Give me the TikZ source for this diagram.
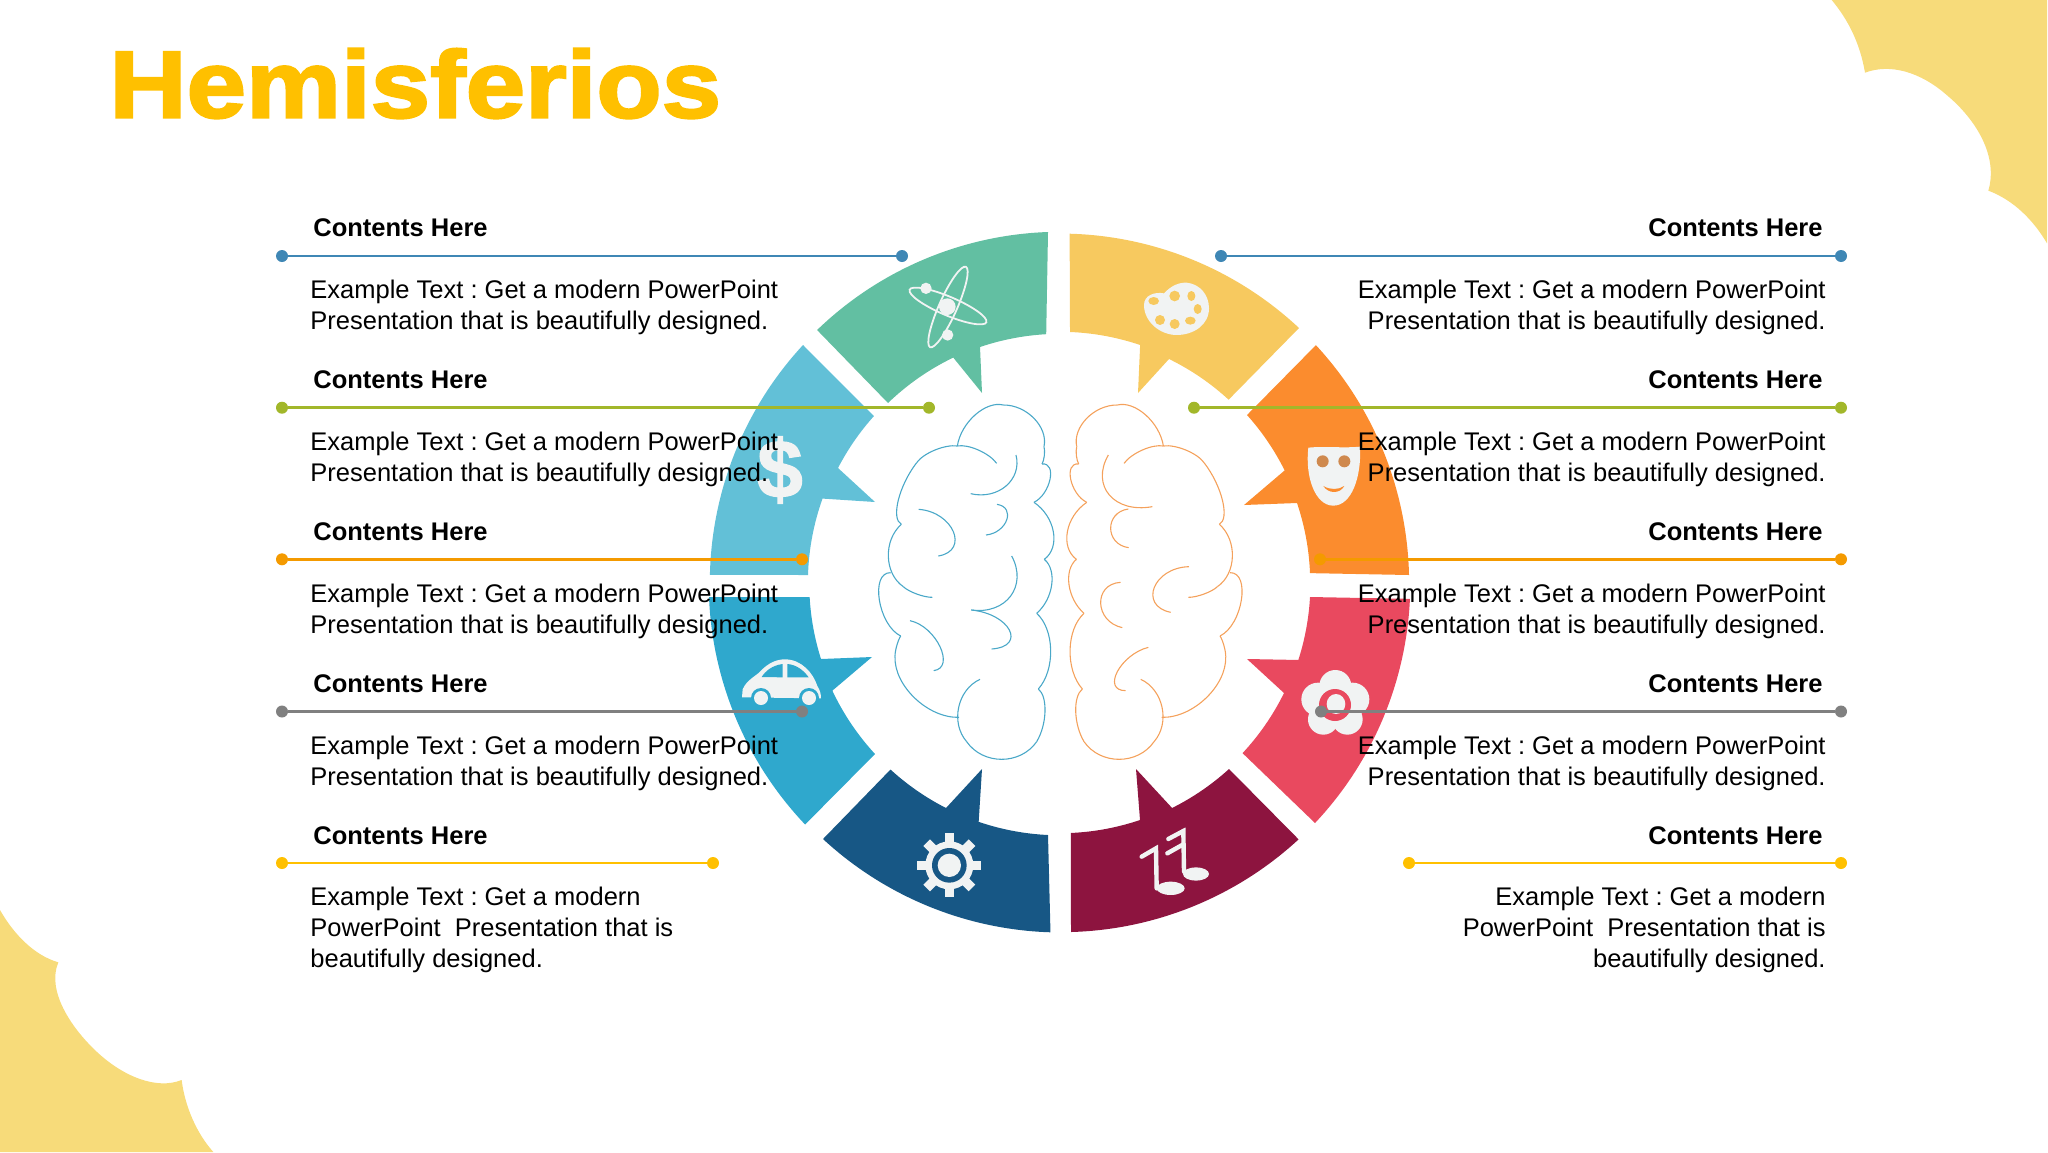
\documentclass[tikz,border=0pt]{standalone}
\usepackage{fontspec}
\setmainfont{Liberation Sans}
\newfontfamily\titlefont[FakeStretch=1.125, FakeBold=2.5]{Liberation Sans Bold}
\newfontfamily\dollarfont[FakeBold=1.5]{Liberation Sans Bold}
\usetikzlibrary{positioning}
\usetikzlibrary{calc}

\definecolor{cloud}{HTML}{F7DB7A}
\definecolor{titlegold}{HTML}{FFC000}
\definecolor{segmint}{HTML}{62BFA2}
\definecolor{segsky}{HTML}{62C0D7}
\definecolor{segblue}{HTML}{2FA8CD}
\definecolor{segnavy}{HTML}{175785}
\definecolor{segsand}{HTML}{F7C95F}
\definecolor{segorange}{HTML}{FB8C2E}
\definecolor{segred}{HTML}{E9495F}
\definecolor{segwine}{HTML}{8D143F}
\definecolor{rowblue}{HTML}{3F87B5}
\definecolor{rowolive}{HTML}{A2B72A}
\definecolor{rowamber}{HTML}{F49A00}
\definecolor{rowgrey}{HTML}{808080}
\definecolor{icon}{HTML}{F1F3F3}
\definecolor{brainblue}{HTML}{4AA8C8}
\definecolor{brainorange}{HTML}{F4A15C}

\newcommand{\lobe}[3]{\draw #1 .. controls ($1.3333*#2+0.1*#1-0.4333*#3$) and ($1.3333*#2+0.1*#3-0.4333*#1$) .. #3;}
\newcommand{\fold}[3]{\draw #1 .. controls ($1.3333*#2+0.25*#1-0.5833*#3$) and ($1.3333*#2+0.25*#3-0.5833*#1$) .. #3;}
\newcommand{\brainoutline}{
\lobe{(292,168)}{(345,75)}{(430,45)}
\lobe{(430,45)}{(522,85)}{(552,170)}
\lobe{(552,170)}{(553,197)}{(546,222)}
\fold{(546,222)}{(570,268)}{(522,337)}
\lobe{(522,337)}{(580,425)}{(553,508)}
\lobe{(553,508)}{(575,585)}{(530,670)}
\lobe{(530,670)}{(572,780)}{(535,897)}
\lobe{(535,897)}{(555,965)}{(530,1055)}
\lobe{(530,1055)}{(425,1108)}{(320,1055)}
\lobe{(320,1055)}{(296,952)}{(360,868)}
\lobe{(297,982)}{(165,925)}{(105,800)}
\lobe{(105,800)}{(110,768)}{(122,738)}
\fold{(122,738)}{(58,630)}{(92,548)}
\lobe{(124,403)}{(85,500)}{(130,590)}
\lobe{(130,590)}{(170,612)}{(217,622)}
\lobe{(124,403)}{(115,330)}{(170,218)}
\lobe{(170,218)}{(225,180)}{(292,168)}
\lobe{(292,168)}{(355,180)}{(410,220)}
}

\begin{document}
\begin{tikzpicture}[x=0.5pt, y=0.5pt,
headl/.style = {anchor = west, inner sep = 0, font = \fontsize{12.75}{15.5}\selectfont\bfseries},
headr/.style = {anchor = east, inner sep = 0, font = \fontsize{12.75}{15.5}\selectfont\bfseries},
bodyl/.style = {anchor = north west, inner sep = 0, align = left, font = \fontsize{12.75}{15.5}\selectfont\frenchspacing},
bodyr/.style = {anchor = north east, inner sep = 0, align = right, font = \fontsize{12.75}{15.5}\selectfont\frenchspacing},
dot/.style = {circle, fill = #1, inner sep = 0, minimum size = 6pt},
rowline/.style = {draw = #1, line width = 1.4pt},
zoomone/.style = {shift = {(680,-210)}, x = 1/6*1pt, y = -1/6*1pt},
zoomtwo/.style = {shift = {(680,-580)}, x = 1/6*1pt, y = -1/6*1pt},
zoomthree/.style = {shift = {(1040,-210)}, x = 1/6*1pt, y = -1/6*1pt},
zoomfour/.style = {shift = {(1040,-580)}, x = 1/6*1pt, y = -1/6*1pt}]

\useasboundingbox (0,0) rectangle (2048,-1152);

% clouds in the corners
\begin{scope}[shift = {(1780,0)}, x = 1/6*1pt, y = -1/6*1pt]
\fill[cloud] (155,0) .. controls (205,60) and (240,130) .. (255,218) .. controls (330,190) and (420,215) .. (500,285) .. controls (590,360) and (655,470) .. (625,572) .. controls (700,600) and (760,660) .. (801,730) -- (801,0) -- cycle;
\end{scope}
\begin{scope}[shift = {(0,-880)}, x = 1/6*1pt, y = -1/6*1pt]
\fill[cloud] (0,90) .. controls (40,160) and (100,225) .. (175,247) .. controls (140,330) and (210,440) .. (290,515) .. controls (370,590) and (470,630) .. (545,600) .. controls (555,680) and (590,760) .. (640,816) -- (0,816) -- cycle;
\end{scope}

\node[anchor = base west, inner sep = 0, text = titlegold, font = \fontsize{47.5}{50}\selectfont\titlefont] (title) at (109,-117.5) {Hemisferios};

% ring
\fill[segmint] (1048,-232) arc[start angle=92, end angle=134, radius=350] -- (888,-403) arc[start angle=134, end angle=115.7, radius=250] -- (982,-393) -- (980,-347) arc[start angle=108.7, end angle=93.2, radius=250] -- cycle;
\fill[segsky] (803,-345) arc[start angle=137.2, end angle=178.7, radius=350] -- (808,-575) arc[start angle=178.2, end angle=160.3, radius=250] -- (875,-502) -- (838,-468) arc[start angle=152.6, end angle=138.1, radius=250] -- cycle;
\fill[segblue] (709,-597) arc[start angle=182.3, end angle=223.5, radius=351] -- (875,-754) arc[start angle=222.7, end angle=205.2, radius=251] -- (872,-657) -- (821,-659) arc[start angle=197.6, end angle=183.2, radius=251] -- (809,-597) -- cycle;
\fill[segnavy] (823,-839) arc[start angle=227.2, end angle=268.2, radius=351] -- (1048,-835) arc[start angle=267.3, end angle=251.2, radius=252] -- (982,-769) -- (946,-808) arc[start angle=243, end angle=227.6, radius=252] -- cycle;
\fill[segsand] (1299,-328) arc[start angle=46.9, end angle=88.4, radius=350] -- (1070,-332) arc[start angle=87.7, end angle=71.3, radius=250] -- (1138,-393) -- (1169,-359) arc[start angle=64, end angle=47.4, radius=250] -- cycle;
\fill[segorange] (1409,-575) arc[start angle=1.3, end angle=42.8, radius=350] -- (1247,-415) arc[start angle=41.9, end angle=26.5, radius=250] -- (1244,-505) -- (1297,-503) arc[start angle=18.7, end angle=2.3, radius=250] -- cycle;
\fill[segred] (1315,-823) arc[start angle=316.7, end angle=357.4, radius=350] -- (1310,-597) arc[start angle=356.8, end angle=342.2, radius=252] -- (1247,-659) -- (1284,-693) arc[start angle=333.8, end angle=317, radius=250] -- cycle;
\fill[segwine] (1071,-932) arc[start angle=271.6, end angle=312.7, radius=350] -- (1229,-769) arc[start angle=312.3, end angle=296.5, radius=251] -- (1136,-769) -- (1140,-820) arc[start angle=288.7, end angle=272.5, radius=250] -- cycle;

% brain
\begin{scope}[shift = {(860,-390)}, x = 1/6*1pt, y = -1/6*1pt, draw = brainblue, line width = 0.55pt]
\brainoutline
\lobe{(468,195)}{(438,288)}{(332,311)}
\fold{(411,343)}{(440,390)}{(378,435)}
\fold{(176,358)}{(280,425)}{(235,498)}
\lobe{(455,498)}{(452,618)}{(334,660)}
\fold{(334,660)}{(448,720)}{(395,777)}
\fold{(150,692)}{(240,770)}{(221,842)}
\end{scope}
\begin{scope}[shift = {(1260.7,-390)}, x = -1/6*1pt, y = -1/6*1pt, draw = brainorange, line width = 0.55pt]
\brainoutline
\end{scope}
\begin{scope}[shift = {(860,-390)}, x = 1/6*1pt, y = -1/6*1pt, draw = brainorange, line width = 0.55pt]
\lobe{(745,195)}{(748,315)}{(877,350)}
\fold{(805,357)}{(752,415)}{(806,473)}
\fold{(987,530)}{(883,592)}{(932,667)}
\fold{(782,577)}{(722,640)}{(787,713)}
\fold{(865,772)}{(772,845)}{(797,902)}
\end{scope}

% atom
\begin{scope}[zoomone]
\fill[icon] (802,290) circle[radius=25];
\fill[icon] (738,235) circle[radius=17];
\fill[icon] (803,375) circle[radius=17];
\draw[icon, line width = 0.9pt] (804,288) ellipse[x radius=125, y radius=28, rotate=-23];
\draw[icon, line width = 0.9pt] (804,291) ellipse[x radius=132, y radius=27, rotate=66];
\end{scope}

% dollar, car, gear
\node[inner sep = 0, text = icon, font = \fontsize{41}{44}\selectfont\dollarfont] (dollar) at (780,-470) {\$};
\begin{scope}[zoomtwo]
\fill[icon] (186,352) -- (188,328) .. controls (200,300) and (225,290) .. (240,275) .. controls (265,248) and (290,238) .. (315,238) .. controls (365,238) and (400,280) .. (412,318) .. controls (420,330) and (423,342) .. (423,355) -- cycle;
\fill[segblue] (245,291) .. controls (255,275) and (275,256) .. (308,252) -- (308,292) -- cycle;
\fill[segblue] (322,252) .. controls (350,254) and (372,272) .. (386,292) -- (322,292) -- cycle;
\fill[segblue] (243,354) circle[radius=30];
\fill[segblue] (387,354) circle[radius=30];
\fill[icon] (243,354) circle[radius=21];
\fill[icon] (387,354) circle[radius=21];
\foreach \a in {0,45,...,315}
  \fill[icon, rotate around = {\a:(808,856)}] (794,856) rectangle (822,760);
\fill[icon] (808,856) circle[radius=72];
\fill[segnavy] (808,856) circle[radius=52];
\fill[icon] (808,856) circle[radius=35];
\end{scope}

% palette, mask
\begin{scope}[zoomthree]
\fill[icon] (312,285) .. controls (312,255) and (345,245) .. (372,250) .. controls (395,225) and (420,217) .. (440,218) .. controls (480,222) and (507,255) .. (507,295) .. controls (507,345) and (460,375) .. (410,375) .. controls (360,375) and (312,335) .. (312,285) -- cycle;
\fill[segsand] (341,273) ellipse[x radius=16, y radius=12];
\fill[segsand] (404,258) circle[radius=16];
\fill[segsand] (454,258) ellipse[x radius=12, y radius=15];
\fill[segsand] (473,297) ellipse[x radius=12, y radius=15];
\fill[segsand] (451,332) ellipse[x radius=16, y radius=12];
\fill[segsand] (404,342) circle[radius=15];
\fill[segsand] (360,330) circle[radius=15];
\fill[icon] (805,713) .. controls (855,708) and (910,715) .. (960,710) .. controls (965,800) and (935,887) .. (880,887) .. controls (825,887) and (795,800) .. (805,713) -- cycle;
\fill[brainorange!85!black] (848,754) circle[radius=18];
\fill[brainorange!85!black] (913,754) circle[radius=18];
\fill[segorange] (850,828) .. controls (870,840) and (895,840) .. (913,828) .. controls (900,852) and (865,852) .. (850,828) -- cycle;
\end{scope}

% flower, notes
\begin{scope}[zoomfour]
\fill[icon] (886,318) circle[radius=48];
\fill[icon] (938,358) circle[radius=50];
\fill[icon] (922,418) circle[radius=46];
\fill[icon] (850,418) circle[radius=46];
\fill[icon] (834,358) circle[radius=50];
\fill[icon] (886,372) circle[radius=40];
\fill[segred] (885,375) circle[radius=48];
\fill[icon] (888,372) ellipse[x radius=28, y radius=30];
\draw[icon, line width = 2.2pt, line cap = round] (305,830) -- (348,805) -- (350,925);
\draw[icon, line width = 2.2pt, line cap = round] (385,777) -- (430,753) -- (432,875);
\draw[icon, line width = 2.2pt, line cap = round] (382,820) -- (430,793);
\fill[icon] (392,925) ellipse[x radius=42, y radius=20];
\fill[icon] (468,882) ellipse[x radius=39, y radius=20];
\end{scope}

% left rows
\node[dot = rowblue] (l1a) at (282,-256) {};
\node[dot = rowblue] (l1b) at (902,-256) {};
\node[dot = rowolive] (l2a) at (282,-407.7) {};
\node[dot = rowolive] (l2b) at (929,-407.7) {};
\node[dot = rowamber] (l3a) at (282,-559.3) {};
\node[dot = rowamber] (l3b) at (802,-559.3) {};
\node[dot = rowgrey] (l4a) at (282,-711.5) {};
\node[dot = rowgrey] (l4b) at (802,-711.5) {};
\node[dot = titlegold] (l5a) at (282,-863) {};
\node[dot = titlegold] (l5b) at (713,-863) {};
\draw[rowline = rowblue] (l1a) -- (l1b);
\draw[rowline = rowolive] (l2a) -- (l2b);
\draw[rowline = rowamber] (l3a) -- (l3b);
\draw[rowline = rowgrey] (l4a) -- (l4b);
\draw[rowline = titlegold] (l5a) -- (l5b);

% right rows
\node[dot = rowblue] (r1a) at (1221,-256) {};
\node[dot = rowblue] (r1b) at (1841,-256) {};
\node[dot = rowolive] (r2a) at (1194,-407.7) {};
\node[dot = rowolive] (r2b) at (1841,-407.7) {};
\node[dot = rowamber] (r3a) at (1320,-559.3) {};
\node[dot = rowamber] (r3b) at (1841,-559.3) {};
\node[dot = rowgrey] (r4a) at (1321,-711.5) {};
\node[dot = rowgrey] (r4b) at (1841,-711.5) {};
\node[dot = titlegold] (r5a) at (1409,-863) {};
\node[dot = titlegold] (r5b) at (1841,-863) {};
\draw[rowline = rowblue] (r1a) -- (r1b);
\draw[rowline = rowolive] (r2a) -- (r2b);
\draw[rowline = rowamber] (r3a) -- (r3b);
\draw[rowline = rowgrey] (r4a) -- (r4b);
\draw[rowline = titlegold] (r5a) -- (r5b);

% texts
\node[headl] (hl1) at (313,-228) {Contents Here};
\node[headl] (hl2) at (313,-380) {Contents Here};
\node[headl] (hl3) at (313,-532) {Contents Here};
\node[headl] (hl4) at (313,-684) {Contents Here};
\node[headl] (hl5) at (313,-835.5) {Contents Here};
\node[bodyl] (bl1) at (310,-280) {Example Text : Get a modern PowerPoint\\Presentation that is beautifully designed.};
\node[bodyl] (bl2) at (310,-431.7) {Example Text : Get a modern PowerPoint\\Presentation that is beautifully designed.};
\node[bodyl] (bl3) at (310,-583.3) {Example Text : Get a modern PowerPoint\\Presentation that is beautifully designed.};
\node[bodyl] (bl4) at (310,-735.5) {Example Text : Get a modern PowerPoint\\Presentation that is beautifully designed.};
\node[bodyl] (bl5) at (310,-887) {Example Text : Get a modern\\PowerPoint\ \ Presentation that is\\beautifully designed.};

\node[headr] (hr1) at (1823,-228) {Contents Here};
\node[headr] (hr2) at (1823,-380) {Contents Here};
\node[headr] (hr3) at (1823,-532) {Contents Here};
\node[headr] (hr4) at (1823,-684) {Contents Here};
\node[headr] (hr5) at (1823,-835.5) {Contents Here};
\node[bodyr] (br1) at (1826,-280) {Example Text : Get a modern PowerPoint\\Presentation that is beautifully designed.};
\node[bodyr] (br2) at (1826,-431.7) {Example Text : Get a modern PowerPoint\\Presentation that is beautifully designed.};
\node[bodyr] (br3) at (1826,-583.3) {Example Text : Get a modern PowerPoint\\Presentation that is beautifully designed.};
\node[bodyr] (br4) at (1826,-735.5) {Example Text : Get a modern PowerPoint\\Presentation that is beautifully designed.};
\node[bodyr] (br5) at (1826,-887) {Example Text : Get a modern\\PowerPoint\ \ Presentation that is\\beautifully designed.};

\end{tikzpicture}
\end{document}
